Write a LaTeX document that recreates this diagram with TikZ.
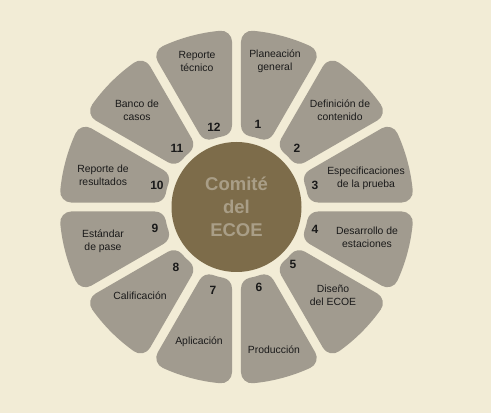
\documentclass[tikz,border=0pt]{standalone}
\usepackage{fontspec}
\setmainfont{Liberation Sans}
\definecolor{bg}{HTML}{F2ECD6}
\definecolor{segc}{HTML}{A19B8F}
\definecolor{circ}{HTML}{7D6C4A}
\definecolor{ctext}{HTML}{A99E87}
\definecolor{txt}{HTML}{1A1A1A}
\tikzset{
  wedge/.style={fill=segc, draw=segc, line width=22pt, line join=round},
  lbl/.style={align=center, font=\fontsize{10.4}{13}\selectfont, text=txt, inner sep=0pt},
  num/.style={font=\fontsize{12}{12}\selectfont\bfseries, text=txt, inner sep=0pt},
  hub/.style={circle, fill=circ, minimum size=130pt, inner sep=0pt, align=center,
    font=\fontsize{18.5}{23}\selectfont\bfseries, text=ctext}
}
\begin{document}
\begin{tikzpicture}[x=1pt,y=1pt]
\fill[bg] (0,0) rectangle (491,413);
\useasboundingbox (0,0) rectangle (491,413);
\coordinate (c) at (236.5,206);
\pgfmathsetmacro\ao{asin(15.5/166)}
\pgfmathsetmacro\ai{asin(15.5/83)}
\foreach \k in {1,...,12}{
  \pgfmathsetmacro\tb{90-30*(\k-1)}
  \pgfmathsetmacro\ta{90-30*\k}
  \pgfmathsetmacro\sa{\ta+\ao}
  \pgfmathsetmacro\ea{\tb-\ao}
  \pgfmathsetmacro\si{\tb-\ai}
  \pgfmathsetmacro\ei{\ta+\ai}
  \filldraw[wedge, shift={(c)}] (\sa:166) arc[start angle=\sa, end angle=\ea, radius=166]
     -- (\si:83) arc[start angle=\si, end angle=\ei, radius=83] -- cycle;
}
\node[hub] (hub) at (c) {Comité\\del\\ECOE};
\node[lbl] (l1) at (275,352) {Planeación\\general};
\node[lbl] (l12) at (197,352) {Reporte\\técnico};
\node[lbl] (l2) at (340,303) {Definición de\\contenido};
\node[lbl] (l3) at (366,234.5) {Especificaciones\\de la prueba};
\node[lbl] (l4) at (367,176) {Desarrollo de\\estaciones};
\node[lbl] (l5) at (333,117.5) {Diseño\\del ECOE};
\node[lbl] (l6) at (274,63) {Producción};
\node[lbl] (l7) at (199,71) {Aplicación};
\node[lbl] (l8) at (140,117) {Calificación};
\node[lbl] (l9) at (103,171.5) {Estándar\\de pase};
\node[lbl] (l10) at (103,237.5) {Reporte de\\resultados};
\node[lbl] (l11) at (137,302.5) {Banco de\\casos};
\node[num] (n1) at (258,289) {1};
\node[num] (n12) at (214,286) {12};
\node[num] (n2) at (297,265) {2};
\node[num] (n3) at (315,228) {3};
\node[num] (n4) at (315,184) {4};
\node[num] (n5) at (293,149) {5};
\node[num] (n6) at (259,126) {6};
\node[num] (n7) at (213,123) {7};
\node[num] (n8) at (176,146) {8};
\node[num] (n9) at (155,185) {9};
\node[num] (n10) at (157,228) {10};
\node[num] (n11) at (177,265) {11};
\end{tikzpicture}
\end{document}
